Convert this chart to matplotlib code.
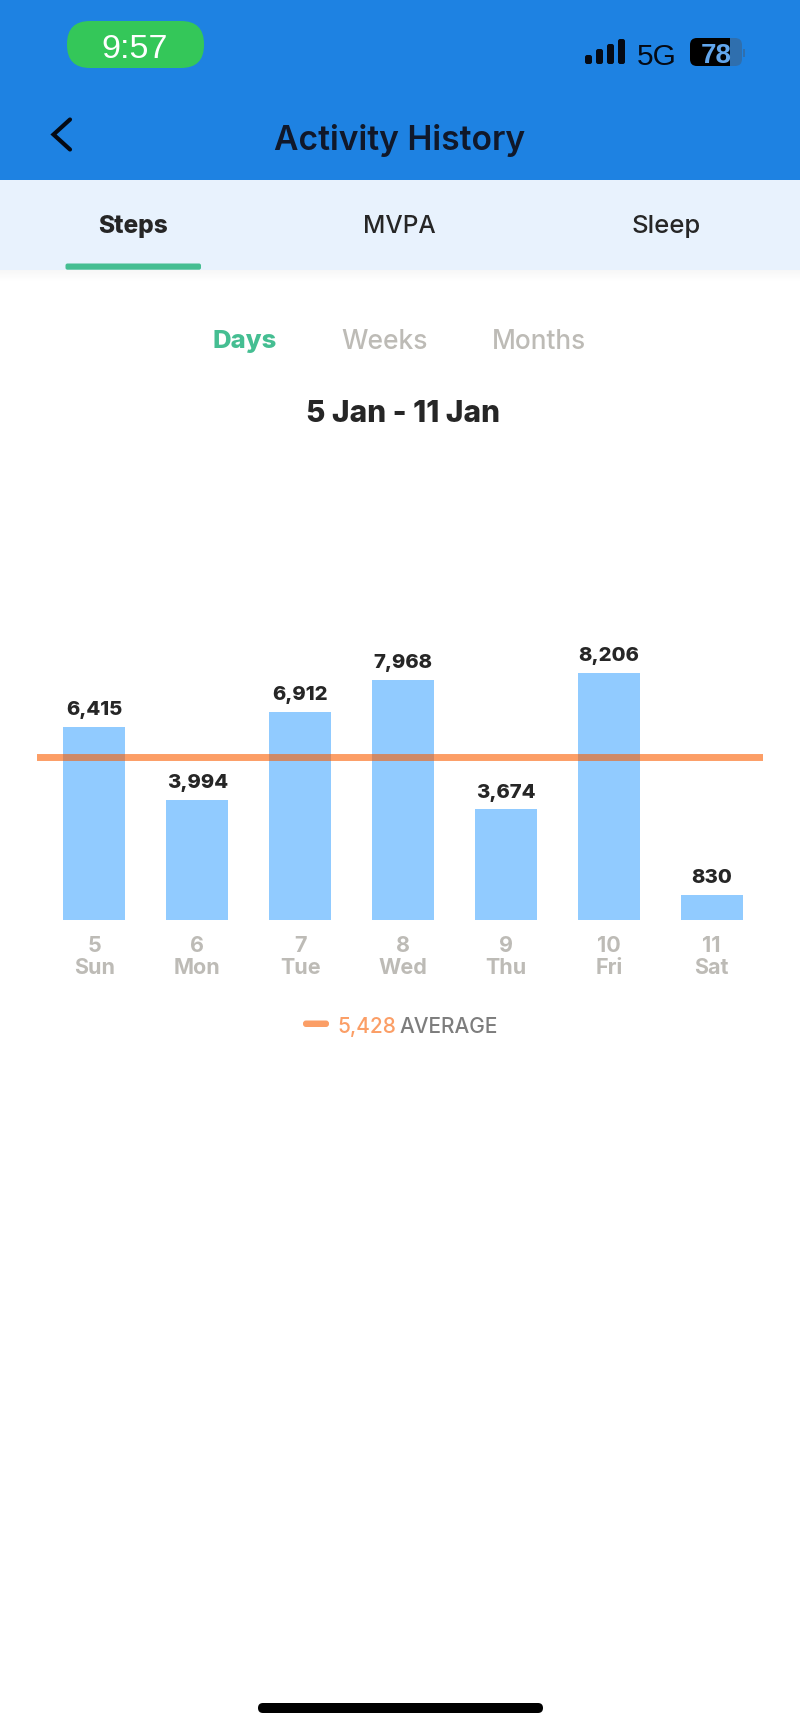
import matplotlib
matplotlib.use("Agg")
import matplotlib.pyplot as plt
from matplotlib.patches import FancyBboxPatch, Rectangle
from matplotlib.ticker import FixedLocator, FixedFormatter

# ---- data ----
day_numbers = ["5", "6", "7", "8", "9", "10", "11"]
day_names = ["Sun", "Mon", "Tue", "Wed", "Thu", "Fri", "Sat"]
steps = [6415, 3994, 6912, 7968, 3674, 8206, 830]
average = 5428
tabs = ["Steps", "MVPA", "Sleep"]
periods = ["Days", "Weeks", "Months"]
title = "Activity History"
date_range = "5 Jan - 11 Jan"

FONT = "Inter"
W, H = 800, 1731
BLUE = "#1E82E2"
GREEN = "#45BE92"
GREY = "#BDBBB6"
DARK = "#262626"

fig = plt.figure(figsize=(W / 100, H / 100), dpi=100, facecolor="white")

# screen furniture in pixel coordinates
ui = fig.add_axes([0, 0, 1, 1], zorder=0)
ui.set_xlim(0, W)
ui.set_ylim(H, 0)
ui.axis("off")


def rrect(x0, y0, x1, y1, r, color, z=2):
    ui.add_patch(FancyBboxPatch((x0 + r, y0 + r), x1 - x0 - 2 * r, y1 - y0 - 2 * r,
                                boxstyle=f"round,pad={r},rounding_size={r}",
                                fc=color, ec="none", zorder=z))


def label(x, y, s, size, color, weight="normal", family=FONT, ha="center"):
    return ui.text(x, y, s, fontsize=size, color=color, fontweight=weight, family=family,
                   ha=ha, va="center_baseline", zorder=5)


ui.add_patch(Rectangle((0, 0), W, 181, fc=BLUE, ec="none"))
ui.add_patch(Rectangle((0, 181), W, 90, fc="#E8F2FD", ec="none"))
for i in range(12):
    level = 247 + i * 8 / 11
    ui.add_patch(Rectangle((0, 271 + i), W, 1.2, fc=(level / 255,) * 3, ec="none"))

# status bar
rrect(67, 22, 204, 69, 23, "#34C759")
label(135, 46, "9:57", 24.5, "white", family="Liberation Sans")
for x0, top in zip([585, 596, 607, 618], [56, 50, 45, 40]):
    rrect(x0, top, x0 + 7, 65, 2.2, "#050A14")
label(656.5, 54, "5G", 21.5, "#050A14", family="Liberation Sans")
rrect(690, 39, 742, 67, 7, "#2F6FAE")
ui.add_patch(Rectangle((697, 39), 33, 28, fc="black", ec="none", zorder=3))
rrect(690, 39, 712, 67, 7, "black", z=3)
ui.add_patch(Rectangle((742.5, 50), 2, 8, fc="#2F6FAE", ec="none"))
label(716, 53, "78", 20, "#62A6EC", weight="bold", family="Liberation Sans")

# navigation
ui.plot([70, 53.5, 70], [120.5, 135.5, 150.5], color="#050A14", lw=3,
        solid_capstyle="round", solid_joinstyle="miter", zorder=5)
label(400, 137, title, 24.2, "#10182A", weight="semibold")

# tabs
for x, s, w, size in zip([133, 399.5, 666], tabs, ["extra bold", "medium", "medium"], [17.6, 17.6, 18.5]):
    label(x, 224, s, size, DARK, weight=w)
rrect(65.5, 264.5, 201, 270.7, 2, GREEN)

# period selector
for x, s, c, w, size in zip([245, 385, 539], periods, [GREEN, GREY, GREY],
                            ["extra bold", "medium", "medium"], [18.5, 19, 18.8]):
    label(x, 339, s, size, c, weight=w)
label(403, 411, date_range, 21.5, DARK, weight="extra bold")

# chart
PX_PER_STEP = 247 / 8206
ax_left, ax_right, ax_bottom, ax_top = 37, 763, 921, 640
ax = fig.add_axes([ax_left / W, 1 - ax_bottom / H, (ax_right - ax_left) / W, (ax_bottom - ax_top) / H], zorder=1)
ax.patch.set_alpha(0)
x_positions = list(range(len(steps)))
ax.bar(x_positions, steps, width=0.6, color="#91CBFF", zorder=2)
ax.axhline(average, color="#FA5D00", alpha=0.6, lw=5, zorder=3)
ax.set_xlim(-0.557, 6.499)
ax.set_ylim(0, (ax_bottom - ax_top) / PX_PER_STEP)
for x, v in zip(x_positions, steps):
    ax.annotate(f"{v:,}", (x, v), xytext=(0, 9.2), textcoords="offset points", ha="center",
                va="baseline", fontsize=14.6, fontweight="extra bold", family=FONT, color=DARK, zorder=5)
ax.xaxis.set_major_locator(FixedLocator(x_positions))
ax.xaxis.set_major_formatter(FixedFormatter([f"{d}\n{n}" for d, n in zip(day_numbers, day_names)]))
ax.tick_params(axis="x", length=0, pad=10.5)
ax.set_yticks([])
for t in ax.get_xticklabels():
    t.set_fontsize(15.5)
    t.set_fontweight("bold")
    t.set_family(FONT)
    t.set_color(GREY)
    t.set_linespacing(1.12)
for s in ax.spines.values():
    s.set_visible(False)

# legend
rrect(303, 1021.5, 329, 1028, 3, "#FB9E66")
label(337, 1025, f"{average:,}", 15, "#FB9E66", weight="medium", ha="left")
label(399.5, 1025, "AVERAGE", 15, "#7D7D7D", weight="medium", ha="left")

# home indicator
rrect(258, 1704, 543, 1714, 5, "black")

fig.savefig("out.png", dpi=100, facecolor="white")
